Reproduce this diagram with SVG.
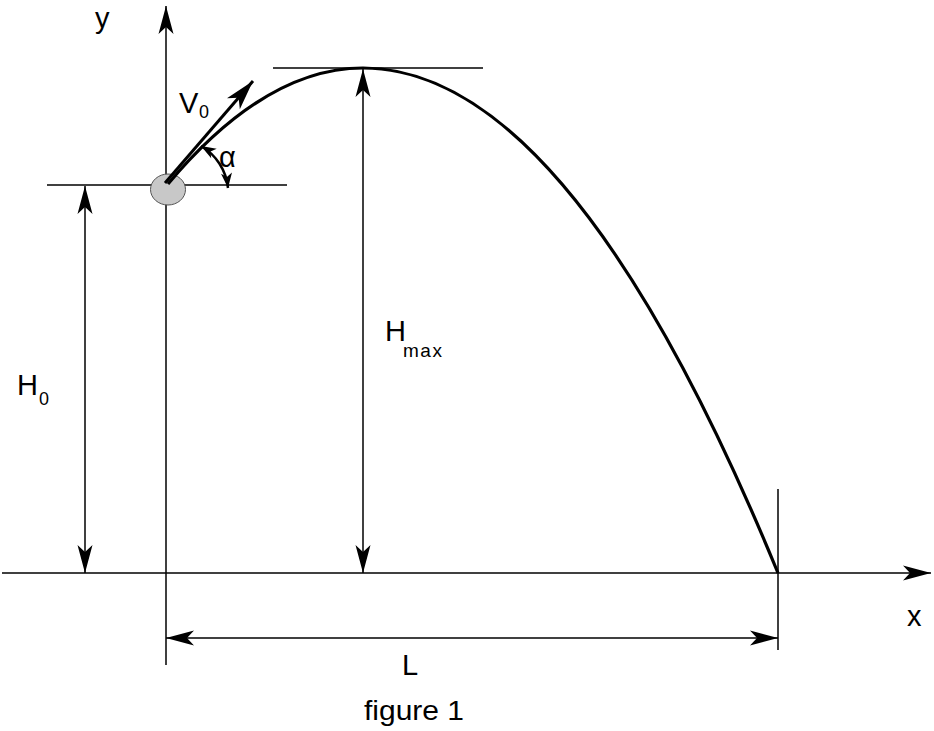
<svg xmlns="http://www.w3.org/2000/svg" width="934" height="731" viewBox="0 0 934 731">
<style>
.ln{stroke:#000;stroke-width:1.5;fill:none}
.dim{stroke:#000;stroke-width:1.5;fill:none;marker-start:url(#dart);marker-end:url(#dart)}
.thick{stroke:#000;stroke-width:3.2;fill:none}
text{font-family:"Liberation Sans",Arial,sans-serif;fill:#000}
.lbl{font-size:29px}
.sub{font-size:19px}
</style>
<defs>
<marker id="dart" markerUnits="userSpaceOnUse" orient="auto-start-reverse" refX="0" refY="0" markerWidth="40" markerHeight="40" overflow="visible">
<path d="M0,0 L-28,-7.5 L-21,0 L-28,7.5 Z" fill="#000"/>
</marker>
<marker id="big" markerUnits="userSpaceOnUse" orient="auto" refX="0" refY="0" markerWidth="40" markerHeight="40" overflow="visible">
<path d="M0,0 L-30,-8.5 L-22,0 L-30,8.5 Z" fill="#000"/>
</marker>
<marker id="small" markerUnits="userSpaceOnUse" orient="auto-start-reverse" refX="0" refY="0" markerWidth="30" markerHeight="30" overflow="visible">
<path d="M0,0 L-15,-5.5 L-11,0 L-15,5.5 Z" fill="#000"/>
</marker>
</defs>
<g id="axes">
<line class="ln" x1="2" y1="573" x2="931" y2="573" marker-end="url(#dart)"/>
<line class="ln" x1="166" y1="665" x2="166" y2="6" marker-end="url(#dart)"/>
<text class="lbl" x="95" y="28">y</text>
<text class="lbl" x="907" y="626">x</text>
</g>
<g id="guides">
<line class="ln" x1="47" y1="185" x2="287" y2="185"/>
<line class="ln" x1="273" y1="68" x2="483" y2="68"/>
<line class="ln" x1="778" y1="489" x2="778" y2="650"/>
</g>
<g id="ball">
<ellipse cx="168" cy="189.5" rx="17.5" ry="15.5" fill="#c8c8c8" stroke="#555" stroke-width="1"/>
</g>
<g id="trajectory">
<path class="thick" d="M168,184 Q265.5,68 363,68 Q570.5,68 778,573"/>
</g>
<g id="connectors">
<line class="dim" x1="85" y1="186" x2="85" y2="573"/>
<line class="dim" x1="363" y1="69" x2="363" y2="573"/>
<line class="dim" x1="166" y1="638" x2="778" y2="638"/>
<line x1="165" y1="183" x2="253" y2="81" stroke="#000" stroke-width="3" marker-end="url(#big)"/>
<path d="M201,146 A55,55 0 0 1 228,188" stroke="#000" stroke-width="2.5" fill="none" marker-start="url(#small)" marker-end="url(#small)"/>
</g>
<g id="labels">
<text class="lbl" x="179" y="113">V</text>
<text class="sub" x="199" y="118" textLength="10" lengthAdjust="spacingAndGlyphs">0</text>
<text class="lbl" x="219" y="167">α</text>
<text class="lbl" x="17" y="395">H</text>
<text class="sub" x="39" y="405" textLength="10" lengthAdjust="spacingAndGlyphs">0</text>
<text class="lbl" x="385" y="341">H</text>
<text class="sub" x="403" y="357" letter-spacing="1.5">max</text>
<text class="lbl" x="402" y="675">L</text>
<text x="364" y="720" style="font-size:27px" textLength="100" lengthAdjust="spacingAndGlyphs">figure 1</text>
</g>
</svg>
